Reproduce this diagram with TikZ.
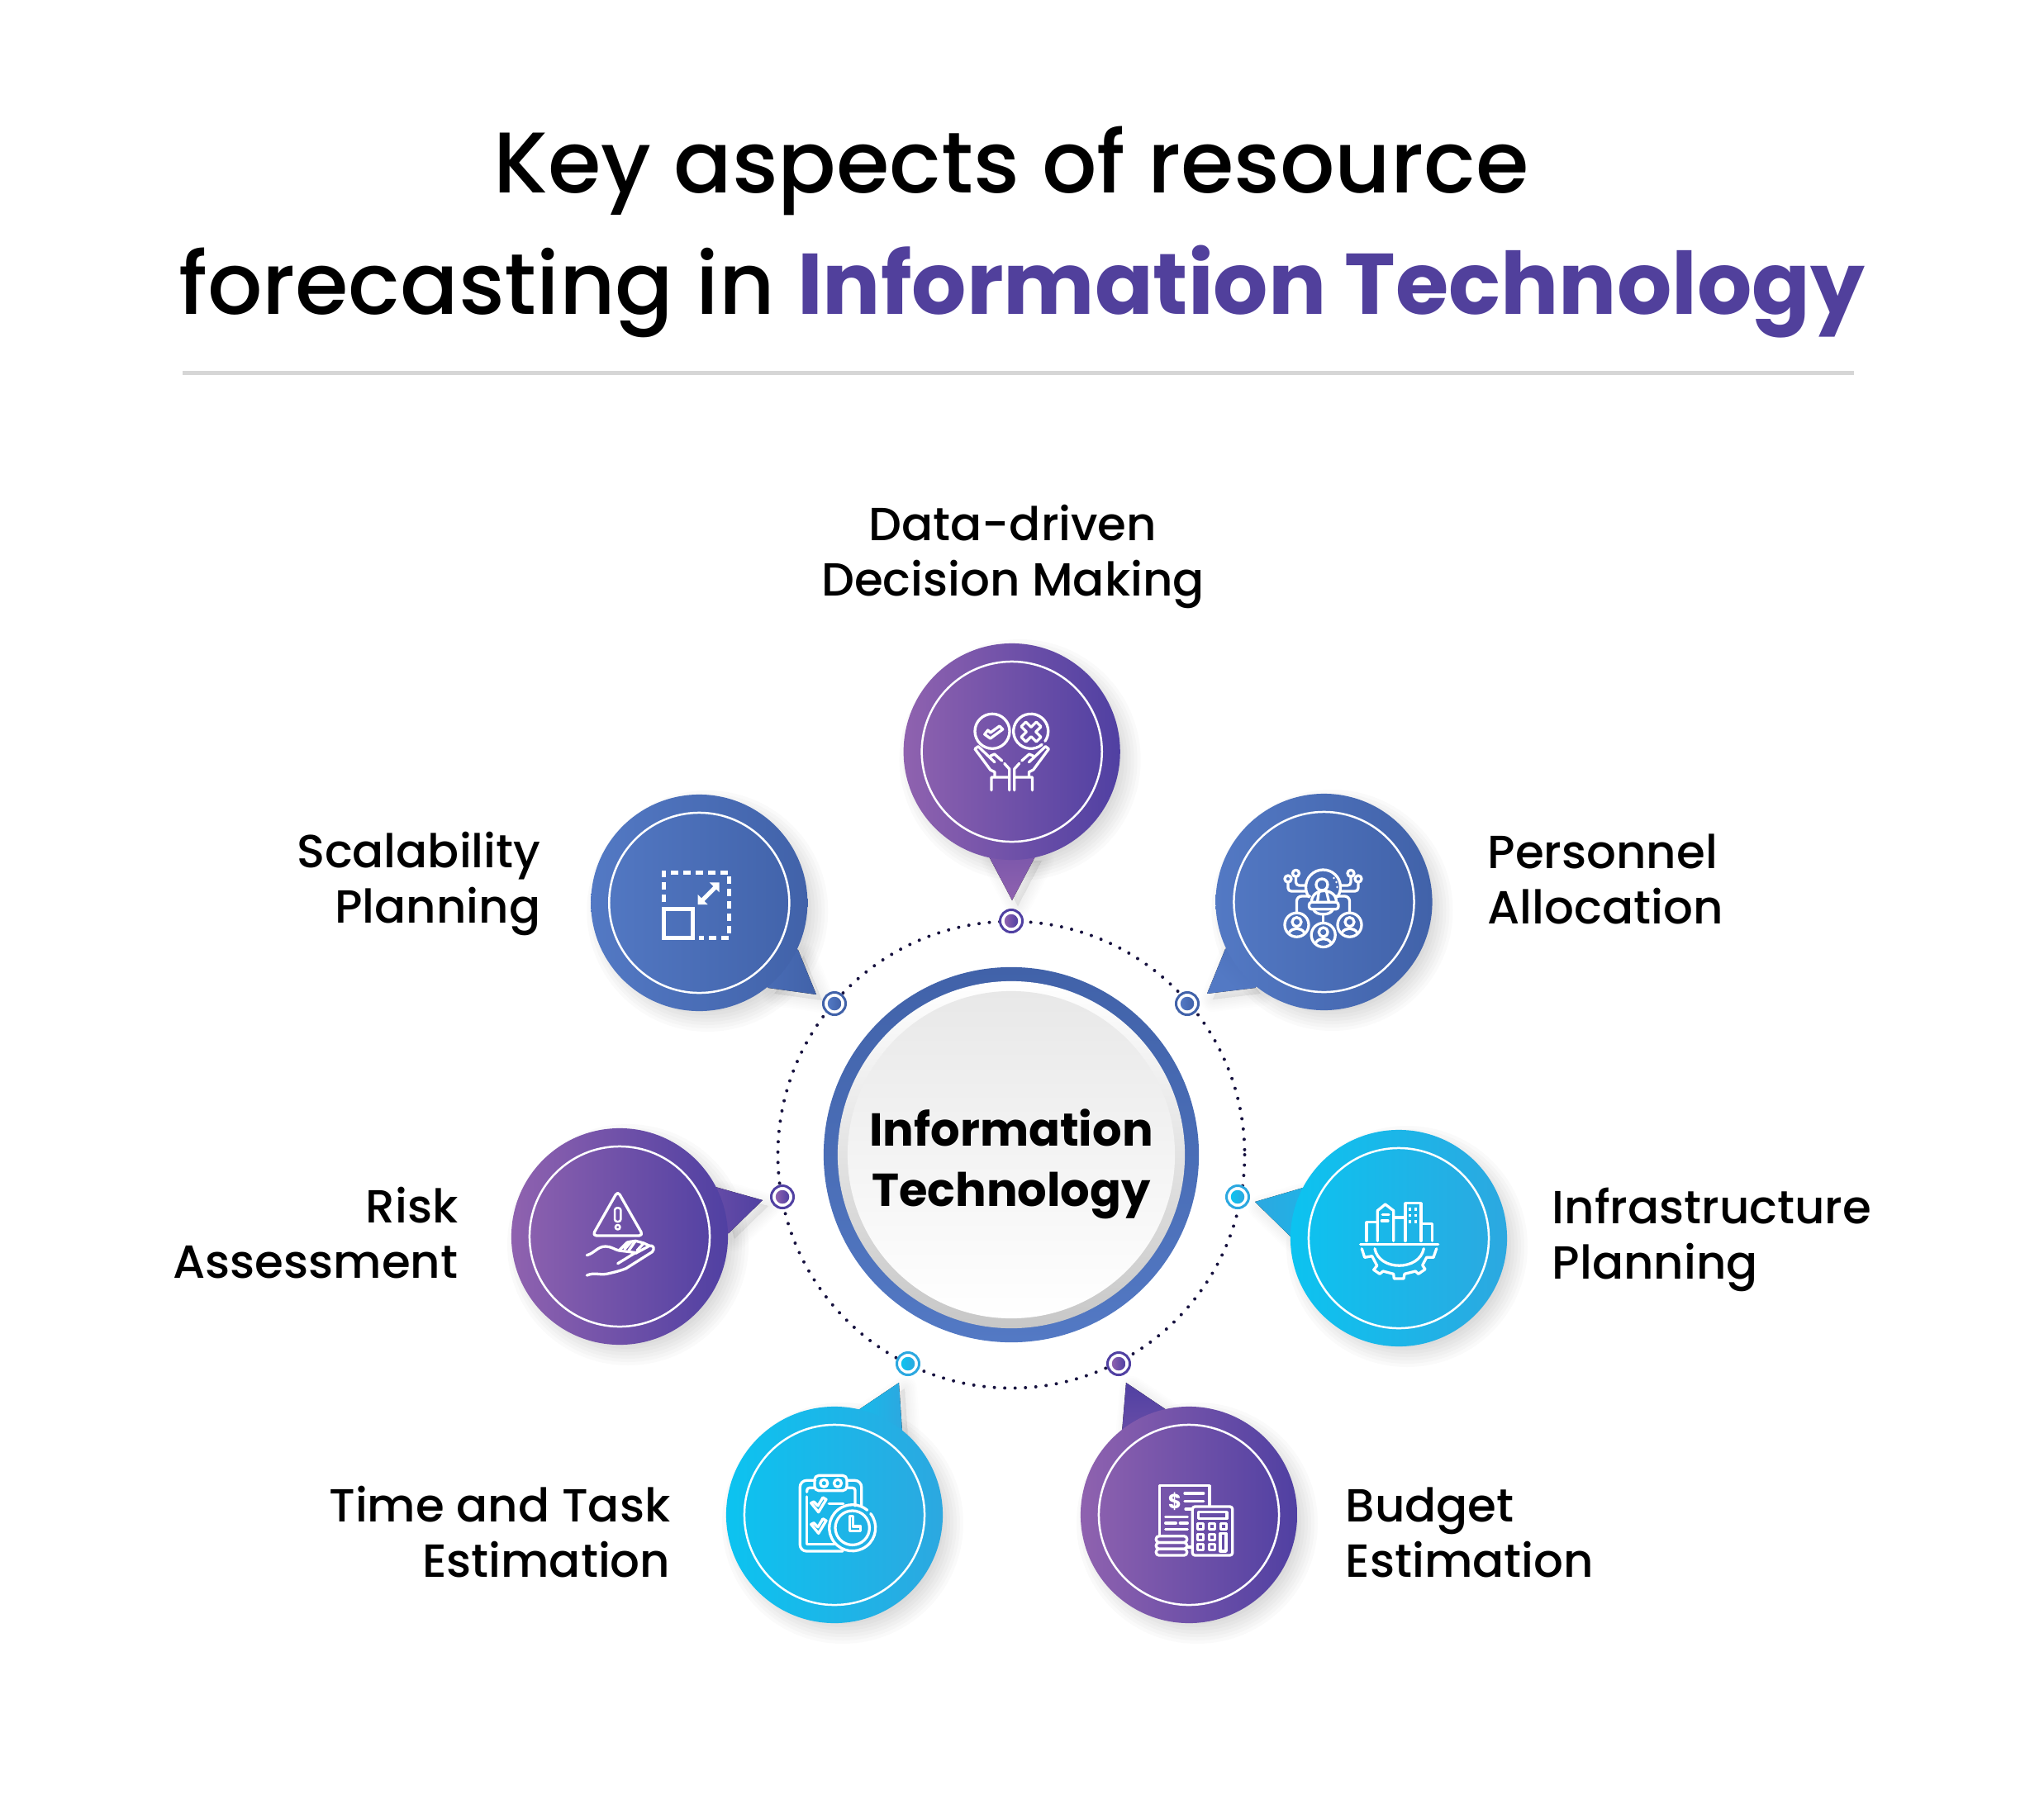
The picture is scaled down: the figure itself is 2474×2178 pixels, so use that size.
\documentclass[tikz,border=0pt]{standalone}
\usepackage{fontspec}
\setmainfont{Poppins}[UprightFont=* Medium,BoldFont=* Bold]
\usepackage{tikz}
\definecolor{purpleL}{HTML}{8F62AF}
\definecolor{purpleR}{HTML}{5040A2}
\definecolor{blueL}{HTML}{5379C4}
\definecolor{blueR}{HTML}{4162A9}
\definecolor{cyanL}{HTML}{0CC3F0}
\definecolor{cyanR}{HTML}{2CA8E0}
\definecolor{titlepurple}{HTML}{51409C}
\definecolor{ringdot}{HTML}{17123F}
\tikzset{
	bubble/.style={circle,inner sep=0pt,minimum size=2.62cm},
	innerring/.style={circle,draw=white,line width=.025cm,inner sep=0pt,minimum size=2.18cm},
	markring/.style={circle,fill=white,line width=.03cm,inner sep=0pt,minimum size=.27cm},
	markdot/.style={circle,inner sep=0pt,minimum size=.165cm},
	itemlabel/.style={inner sep=0pt,font=\fontsize{16}{19.06}\selectfont},
	titleline/.style={inner sep=0pt,anchor=base,font=\fontsize{29.65}{35}\selectfont},
	hubtext/.style={inner sep=0pt,anchor=base,font=\bfseries\fontsize{15.9}{20.6}\selectfont},
	icon/.style={draw=white,line width=.033cm,line cap=round,line join=round}
}
\begin{document}
\begin{tikzpicture}[x=.01cm,y=-.01cm]
	\useasboundingbox (0,0) rectangle (2474,2178);
	\fill[white] (0,0) rectangle (2474,2178);
	% title
	\node[titleline] (titleA) at (1224,233) {Key aspects of resource};
	\node[titleline] (titleB) at (1237,380) {forecasting in \textcolor{titlepurple}{\textbf{Information Technology}}};
	\draw[line width=.05cm,color=black!16] (221,451) -- (2244,451);
	% centre
	\node[circle,inner sep=0pt,minimum size=4.54cm,top color=blueR,bottom color=blueL] (hub) at (1224,1398) {};
	\node[circle,inner sep=0pt,minimum size=4.2cm,top color=white,bottom color=black!22] (hubrim) at (hub) {};
	\node[circle,inner sep=0pt,minimum size=3.96cm,top color=black!9,bottom color=white] (hubface) at (hub) {};
	\node[hubtext] (hubtop) at (1224,1387) {Information};
	\node[hubtext] (hubbottom) at (1224,1460) {Technology};
	% balloons
	\foreach \name/\cx/\cy/\col/\ax/\ay/\bx/\by/\tx/\ty/\ang in {
		decision/1224.7/910/purple/1196/1035/1254/1035/1225/1090/0,
		personnel/1602.5/1092/blue/1483/1149/1519/1196/1461/1203/-45,
		scalability/846.3/1093/blue/966/1150/930/1196/988/1204/-90,
		risk/750/1497/purple/866/1437/882/1493/923/1453/-90,
		infrastructure/1693/1499/cyan/1577/1438/1562/1497/1519/1455/90,
		timetask/1010/1834/cyan/1039/1707/1092/1733/1088/1674/-90,
		budget/1439/1834/purple/1412/1707/1358/1733/1363/1674/0}{
		\foreach \w in {2,6,...,30}{
			\fill[black,opacity=.02] (\cx+10,\cy+10) circle ({116+\w});
			\draw[black,opacity=.009,fill=black,line width=\w*.01cm,line join=round] (\ax+7,\ay+7) -- (\tx+7,\ty+7) -- (\bx+7,\by+7) -- cycle;
		}
		\fill[top color=\col R,bottom color=\col L,shading angle=\ang] (\ax,\ay) -- (\tx,\ty) -- (\bx,\by) -- (\cx,\cy) -- cycle;
		\node[bubble,left color=\col L,right color=\col R] (\name) at (\cx,\cy) {};
		\node[innerring] (\name ring) at (\name) {};
	}
	% dotted ring and marks
	\draw[ringdot,line width=.04cm,line cap=round,dash pattern=on 0pt off .1254cm] (hub) circle (282.5);
	\foreach \name/\mx/\my/\col in {
		decisionmark/1224/1115/purple,
		personnelmark/1437/1215/blue,
		scalabilitymark/1010/1215/blue,
		riskmark/947/1449/purple,
		infrastructuremark/1498/1449/cyan,
		timetaskmark/1099/1651/cyan,
		budgetmark/1354/1651/purple}{
		\node[markring,draw=\col R] (\name) at (\mx,\my) {};
		\node[markdot,left color=\col L,right color=\col R] (\name dot) at (\name) {};
	}
	% labels
	\node[itemlabel,align=center] (decisionlabel) at (1226,674) {Data-driven\\Decision Making};
	\node[itemlabel,align=right,anchor=east] (scalabilitylabel) at (655,1070) {Scalability\\Planning};
	\node[itemlabel,align=left,anchor=west] (personnellabel) at (1800,1064) {Personnel\\Allocation};
	\node[itemlabel,align=right,anchor=east] (risklabel) at (555,1493) {Risk\\Assessment};
	\node[itemlabel,align=left,anchor=west] (infrastructurelabel) at (1878,1501) {Infrastructure\\Planning};
	\node[itemlabel,align=right,anchor=east] (timetasklabel) at (812,1855) {Time and Task\\Estimation};
	\node[itemlabel,align=left,anchor=west] (budgetlabel) at (1628,1855) {Budget\\Estimation};
	% decision icon
	\begin{scope}[shift={(decision.center)},icon]
		\draw (-23.7,-24.7) circle (21);
		\draw (23,-24.7) ++(50:21) arc (50:395:21);
		\draw (-33,-21) -- (-26,-16) -- (-11,-27) -- (-15,-31) -- (-26,-23) -- (-29,-26) -- cycle;
		\draw[shift={(23.3,-24)},rotate=45] (-4,-13) -- (4,-13) -- (4,-4) -- (13,-4) -- (13,4) -- (4,4) -- (4,13) -- (-4,13) -- (-4,4) -- (-13,4) -- (-13,-4) -- (-4,-4) -- cycle;
		\foreach \s in {1,-1}
			\draw[xscale=\s] (-20.7,31) -- (-20.7,24.7) -- (-26,22) -- (-44.7,-3.3) -- (-40.7,-6.3) -- (-25,8.7) -- (-20.7,12.7)
				(-25.7,5) -- (-21,3) -- (-12,11) (-9,14.3) -- (-3,21) -- (-3,46.7) (-24.7,46.7) -- (-24.7,31) -- (-3,31);
	\end{scope}
	% personnel icon
	\begin{scope}[shift={(personnel.center)},icon]
		\draw (-1,-18) ++(145:21) arc (145:395:21);
		\draw (-2.5,-21) circle (7);
		\draw (-15,0) .. controls (-15,-18) and (15,-18) .. (15,0);
		\draw (-6,-13) -- (-8,0) (3,-13) -- (6,0);
		\draw[rounded corners=.03cm] (-18,0.3) rectangle (17.5,8.7);
		\draw (-13,8.7) .. controls (-10,17) and (8,17) .. (11,8.7);
		\draw (-0.8,15) -- (-0.8,25.5);
		\foreach \px/\py in {-0.8/40,-33/27.7,31/27.7}{
			\draw (\px,\py) circle (14.5);
			\draw (\px,\py-3.5) circle (5.5);
			\draw (\px-9,\py+9) .. controls (\px-5,\py+3) and (\px+5,\py+3) .. (\px+9,\py+9);
		}
		\draw[rounded corners=.06cm] (-33,13.2) -- (-33,-7) -- (-17,-7);
		\draw[rounded corners=.06cm] (31,13.2) -- (31,-7) -- (14,-7);
		\foreach \px/\py in {-43.5/-28,-34/-34.7,32.5/-34.7,41.5/-28}
			\draw (\px,\py) circle (4);
		\draw[rounded corners=.04cm] (-43.5,-24) -- (-43.5,-13) -- (-22,-13);
		\draw[rounded corners=.04cm] (-34,-30.7) -- (-34,-20) -- (-23,-20);
		\draw[rounded corners=.04cm] (41.5,-24) -- (41.5,-13) -- (21,-13);
		\draw[rounded corners=.04cm] (32.5,-30.7) -- (32.5,-20) -- (21,-20);
		\foreach \px/\py in {12/-29,15/-24,16/-18}
			\fill[white] (\px,\py) circle (1.3);
	\end{scope}
	% scalability icon
	\begin{scope}[shift={(scalability.center)}]
		\draw[draw=white,line width=.045cm] (-43,7.3) rectangle (-7.7,42.7);
		\draw[draw=white,line width=.045cm,dash pattern=on .09cm off .06cm] (-43,-0.7) -- (-43,-36.7) -- (36.3,-36.7) -- (36.3,42.7) -- (-0.3,42.7);
		\draw[draw=white,line width=.05cm] (2,-1.3) -- (22,-21.3);
		\fill[white] (24.3,-24.7) -- (12.3,-24.7) -- (24.3,-12.7) -- cycle;
		\fill[white] (-1.7,2) -- (10.3,2) -- (-1.7,-10) -- cycle;
	\end{scope}
	% risk icon
	\begin{scope}[shift={(risk.center)},icon]
		\draw[rounded corners=.05cm] (-2.3,-1) -- (-33,-1) -- (-2.3,-55) -- (28.5,-1) -- cycle;
		\draw[rounded corners=.03cm,line width=.025cm] (-6,-34.7) rectangle (1.4,-18);
		\draw[line width=.025cm] (-2.3,-11.3) circle (2.8);
		\draw (-39.7,22.7) .. controls (-30,20) and (-27,12) .. (-17,12) .. controls (-10,12) and (-6,16) .. (-0.7,17) -- (19.3,19.5) -- (-2.3,32.7);
		\draw (-39.7,47) .. controls (-30,43) and (-25,47) .. (-15.7,45.3) .. controls (-5,43) and (2,41) .. (7.7,38.7) -- (39.3,18.7) .. controls (43,15) and (41,10) .. (36,11.3) -- (19.3,20.3);
		\draw (-0.7,17) -- (9.3,7) -- (14.3,6) -- (6,15.3) (14.3,6) -- (19.3,5.3) -- (11,17) (19.3,5.3) -- (29.3,8) -- (21,17) (29.3,8) -- (36,11.3);
	\end{scope}
	% infrastructure icon
	\begin{scope}[shift={(infrastructure.center)},icon]
		\draw[line width=.035cm] (-46.3,7.7) -- (47.7,7.7);
		\draw (-39,3.3) -- (-39,-19.3) -- (-25.7,-19.3);
		\draw (-25.7,3.3) -- (-25.7,-33.3) -- (-16.3,-41) -- (-6.3,-33.3) -- (-6.3,3.3);
		\draw (-19.7,-28.3) -- (-12,-28.3) (-20.7,-21) -- (-13,-21);
		\draw (-6.3,-25) -- (8,-25);
		\draw (8,3.3) -- (8,-42.3) -- (27,-42.3) -- (27,3.3);
		\foreach \wx in {13.7,20.3}
			\foreach \wy in {-35,-27.3,-20}
				\fill[white] (\wx-1.7,\wy-1.7) rectangle (\wx+1.7,\wy+1.7);
		\draw (27,-17.7) -- (40.3,-17.7) -- (40.3,3.3);
		\draw (-29,12.7) .. controls (-24,40) and (25,40) .. (30.3,12.7);
		\draw (-44.7,12.7) -- (-41.3,23.3) -- (-32.3,21.7) -- (-26.3,33.3) -- (-30.3,38.3) -- (-23,43.3) -- (-19,40) -- (-6.3,43.3) -- (-5.7,49) -- (6,49) -- (7,43.3) -- (20.3,40) -- (23.7,43.3) -- (32,37.7) -- (28.7,32.7) -- (33.7,23.3) -- (42,23.3) -- (45.7,12.7);
	\end{scope}
	% time and task icon
	\begin{scope}[shift={([xshift=.01cm]timetask.center)},icon]
		\draw[rounded corners=.08cm] (31.7,-11) -- (31.7,-41.7) -- (14.7,-41.7);
		\draw[rounded corners=.08cm] (-24.3,-41.7) -- (-42.7,-41.7) -- (-42.7,44) -- (9,44);
		\draw[rounded corners=.03cm] (-34.3,-27.7) -- (-34.3,-32.7) -- (-25,-32.7);
		\draw (-34.3,-22) -- (-34.3,35.7) -- (-1,35.7);
		\draw[rounded corners=.03cm] (14.7,-32.7) -- (24,-32.7) -- (24,-11);
		\draw[rounded corners=.05cm] (-25,-47.7) rectangle (14,-29.3);
		\draw (-13.7,-38.3) circle (4.5) (3,-38.3) circle (4.5);
		\foreach \dy in {0,25.7}
			\draw[shift={(0,\dy)}] (-29.3,-14.3) -- (-26,-16) -- (-21,-11) -- (-15,-21) -- (-11,-18.7) -- (-20.3,-3.3) -- cycle;
		\draw (-7.7,-13.7) -- (9.7,-13.7);
		\draw (20.7,15.7) ++(-38:28) arc (-38:310:28);
		\draw (20.7,15.7) circle (20.7);
		\draw (17.3,1.3) -- (21.3,1.3) -- (21.3,14) -- (30.7,14) -- (30.7,19.7) -- (17.3,19.7) -- cycle;
	\end{scope}
	% budget icon
	\begin{scope}[shift={([xshift=.04cm]budget.center)},icon]
		\draw (-39.7,25.7) -- (-39.7,-35.3) -- (21,-35.3) -- (21,-11);
		\node[white,inner sep=0pt,font=\bfseries\fontsize{7}{8}\selectfont] (dollar) at (-21,-16) {\$};
		\draw (-9,-26) -- (13.7,-26) (-9,-16.7) -- (13.7,-16.7) (-8,-7) -- (0,-7);
		\draw (-32.3,2.3) -- (-5.7,2.3) (-32.3,10) -- (-19.7,10) (-14.7,10) -- (-5.7,10) (-32.3,17.3) -- (-5.7,17.3);
		\foreach \ky in {25.7,33.5,41.3}
			\draw[rounded corners=.035cm] (-43.7,\ky) rectangle (-6.3,\ky+7.7);
		\draw (-6.3,39) -- (0.3,39);
		\draw[rounded corners=.03cm] (0.3,-10) rectangle (48.7,49);
		\draw (7.7,-3.3) rectangle (42,4.7);
		\foreach \kx/\ky in {10.3/14,23.7/14,37.7/14,10.3/26.7,23.7/26.7,10.3/39,23.7/39}
			\draw (\kx-3.5,\ky-3.5) rectangle (\kx+3.5,\ky+3.5);
		\draw (34,22.3) rectangle (41,44);
	\end{scope}
\end{tikzpicture}
\end{document}
